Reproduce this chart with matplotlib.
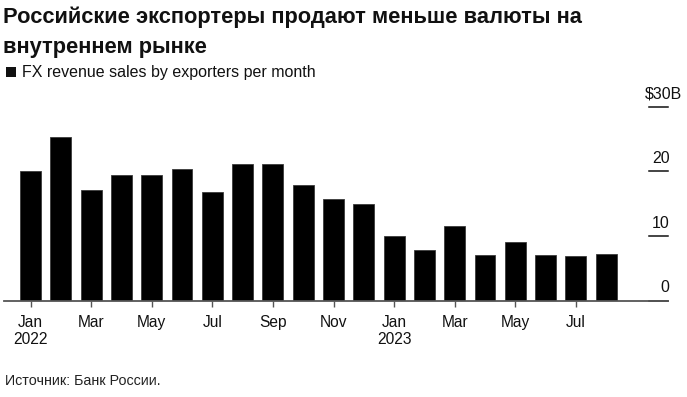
import matplotlib
matplotlib.use("Agg")
import matplotlib.pyplot as plt
import matplotlib.transforms as mtransforms
from matplotlib.patches import Rectangle

months = ["Jan", "Feb", "Mar", "Apr", "May", "Jun", "Jul", "Aug", "Sep", "Oct", "Nov", "Dec",
          "Jan", "Feb", "Mar", "Apr", "May", "Jun", "Jul", "Aug"]
years = ["2022"] * 12 + ["2023"] * 8
values = [20.1, 25.3, 17.2, 19.4, 19.4, 20.4, 16.8, 21.1, 21.2, 17.9, 15.7, 15.0,
          10.0, 7.8, 11.6, 7.1, 9.1, 7.1, 6.95, 7.2]
yticks = [0, 10, 20, 30]
ytick_labels = ["0", "10", "20", "$30B"]

title_lines = ["Российские экспортеры продают меньше валюты на", "внутреннем рынке"]
legend_label = "FX revenue sales by exporters per month"
source = "Источник: Банк России."

plt.rcParams['font.family'] = ['Liberation Sans', 'DejaVu Sans']

W, H = 687, 397
fig = plt.figure(figsize=(W / 100, H / 100), dpi=100)
ax = fig.add_axes([4 / W, 1 - 301 / H, (668 - 4) / W, (301 - 106.7) / H])

x = list(range(len(values)))
ax.bar(x, values, width=0.69, color="black", edgecolor="#3a3a3a", linewidth=0.6, zorder=2)
ax.set_xlim(-0.875, 21.04)
ax.set_ylim(0, 30)

for s in ["top", "right", "left"]:
    ax.spines[s].set_visible(False)
ax.spines["bottom"].set_color("#555555")
ax.spines["bottom"].set_linewidth(1.3)
ax.spines["bottom"].set_zorder(3)
ax.yaxis.set_visible(False)

tick_pos = x[::2]
tick_lab = [months[i] + ("\n" + years[i] if months[i] == "Jan" else "") for i in tick_pos]
ax.set_xticks(tick_pos)
ax.set_xticklabels(tick_lab, fontsize=11.2, linespacing=1.2, va="top", color="#111111")
ax.tick_params(axis="x", length=4, width=1, color="#555555", pad=6)

trans = mtransforms.blended_transform_factory(ax.transAxes, ax.transData)
x0 = (649 - 4) / (668 - 4)
for v, lab in zip(yticks, ytick_labels):
    ax.plot([x0, 1.0], [v, v], transform=trans, color="#111111", lw=1.1,
            clip_on=False, zorder=3)
    dx = 10 if lab.endswith("B") else 1
    ax.annotate(lab, xy=(1.0, v), xycoords=trans, xytext=(dx, 6.2), textcoords="offset points",
                ha="right", va="baseline", fontsize=11.5, color="#111111")

fig.text(3 / W, 1 - 22.7 / H, title_lines[0], ha="left", va="baseline", fontsize=15.75,
         fontweight="bold", color="#111111")
fig.text(3 / W, 1 - 53.3 / H, title_lines[1], ha="left", va="baseline", fontsize=15.75,
         fontweight="bold", color="#111111")
fig.patches.append(Rectangle((6 / W, 1 - 77 / H), 10 / W, 10 / H, transform=fig.transFigure,
                             facecolor="#111111", edgecolor="none"))
fig.text(22 / W, 1 - 76.7 / H, legend_label, ha="left", va="baseline", fontsize=11.5,
         color="#111111")
fig.text(5 / W, 1 - 385 / H, source, ha="left", va="baseline", fontsize=10.3, color="#222222")

fig.savefig("out.png", dpi=100)
